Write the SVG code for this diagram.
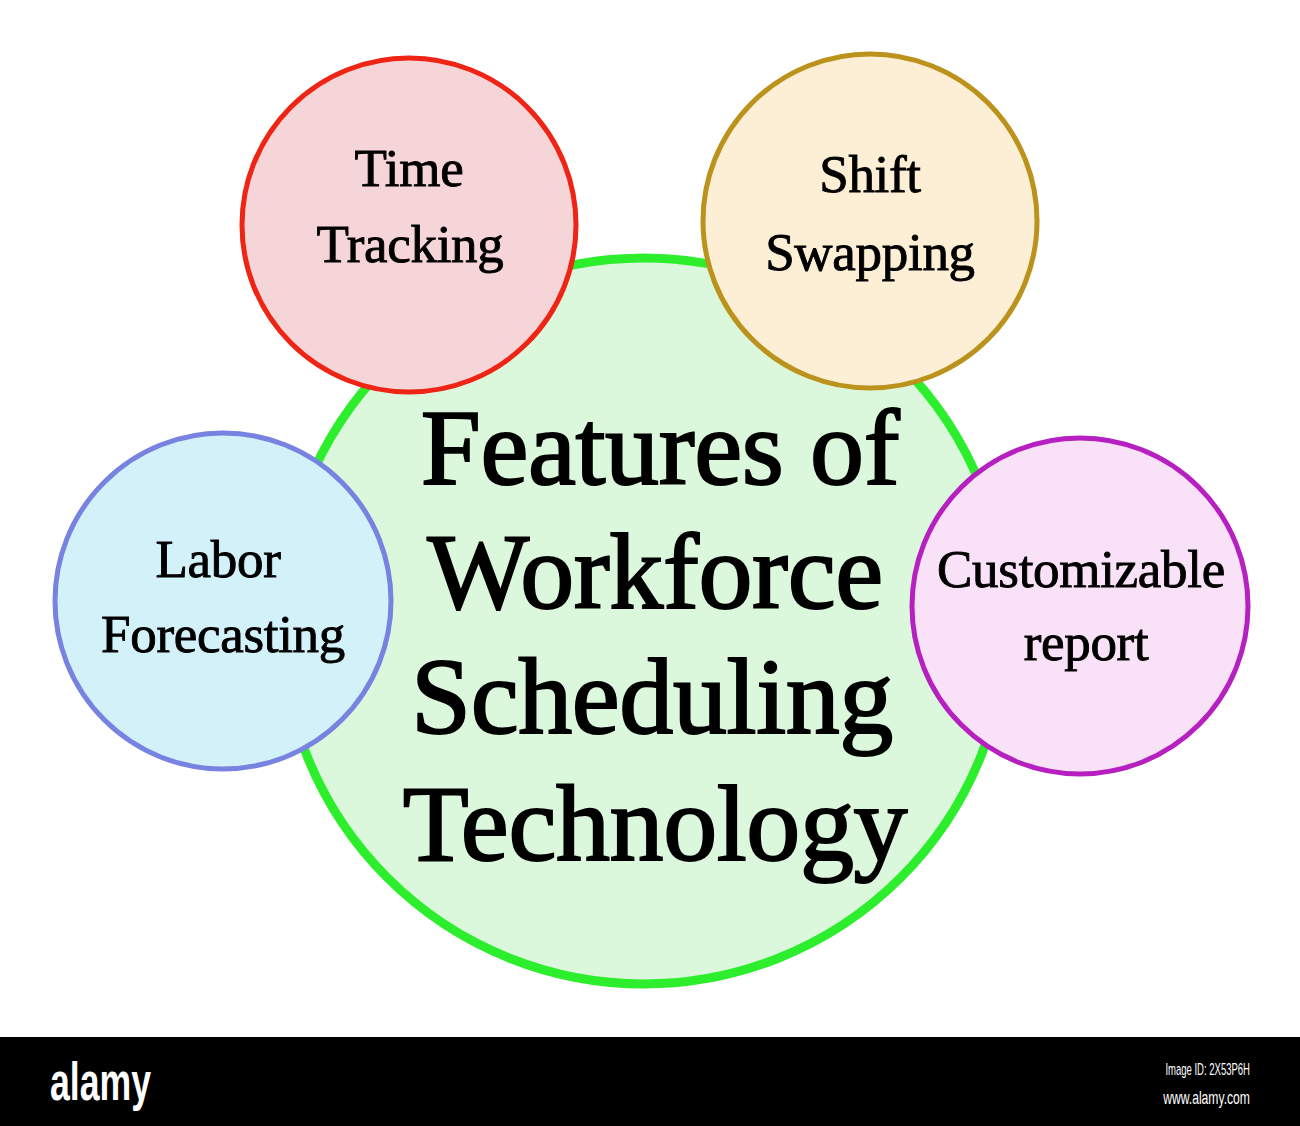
<svg xmlns="http://www.w3.org/2000/svg" width="1300" height="1126" viewBox="0 0 1300 1126">
<style>
.lbl{font-family:"Liberation Serif","Times New Roman",serif;font-size:53px;fill:#000;stroke:#000;stroke-width:0.9;text-anchor:middle;letter-spacing:-0.3px}
.title{font-family:"Liberation Serif","Times New Roman",serif;font-size:108px;fill:#000;stroke:#000;stroke-width:2;text-anchor:middle;letter-spacing:-0.4px}
.sat{stroke-width:5}
.ft{font-family:"Liberation Sans",Arial,sans-serif;fill:#fff}
</style>
<rect x="0" y="0" width="1300" height="1126" fill="#ffffff"/>
<g id="center">
<circle cx="644" cy="621" r="363" fill="#dcf8dc" stroke="#2cee2c" stroke-width="9"/>
<text class="title" x="660" y="484">Features of</text>
<text class="title" x="655" y="608">Workforce</text>
<text class="title" x="652" y="733">Scheduling</text>
<text class="title" x="655" y="860">Technology</text>
</g>
<g id="connectors"></g>
<g id="time-tracking">
<circle cx="409" cy="225" r="167" fill="#f5d5d8" stroke="#ee2414" class="sat"/>
<text class="lbl" x="409" y="186">Time</text>
<text class="lbl" x="410" y="262">Tracking</text>
</g>
<g id="shift-swapping">
<circle cx="870" cy="221" r="167" fill="#fcefd6" stroke="#bb921c" class="sat"/>
<text class="lbl" x="870" y="192">Shift</text>
<text class="lbl" x="870" y="270">Swapping</text>
</g>
<g id="labor-forecasting">
<circle cx="223" cy="601" r="168" fill="#d3f1f9" stroke="#7882e0" class="sat"/>
<text class="lbl" x="218" y="577">Labor</text>
<text class="lbl" x="223" y="652">Forecasting</text>
</g>
<g id="customizable-report">
<circle cx="1080" cy="606" r="168" fill="#f9e1f8" stroke="#b61fc0" class="sat"/>
<text class="lbl" x="1081" y="587">Customizable</text>
<text class="lbl" x="1086" y="660">report</text>
</g>
<g id="footer">
<rect x="0" y="1037" width="1300" height="89" fill="#000"/>
<text class="ft" transform="translate(50,1100) scale(0.66,1)" x="0" y="0" font-weight="bold" font-size="54">alamy</text>
<text class="ft" transform="translate(1250,1075) scale(0.56,1)" x="0" y="0" font-size="17" text-anchor="end">Image ID: 2X53P6H</text>
<text class="ft" transform="translate(1250,1104) scale(0.64,1)" x="0" y="0" font-size="19" text-anchor="end">www.alamy.com</text>
</g>
</svg>
